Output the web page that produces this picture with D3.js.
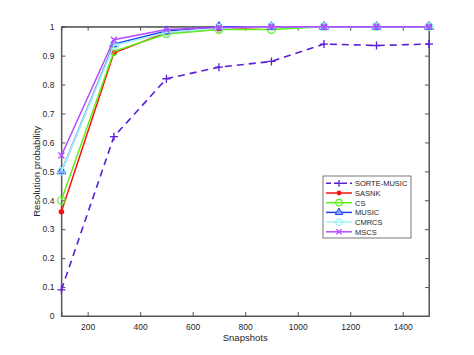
<!DOCTYPE html>
<html><head><meta charset="utf-8">
<script src="https://cdn.jsdelivr.net/npm/d3@7"></script>
<style>body{margin:0;background:#fff}svg{display:block}text{font-family:"Liberation Sans",Arial,sans-serif;fill:#262626}</style>
</head><body><svg id="c" width="474" height="355"></svg>
<script>
const snapshots = [100, 300, 500, 700, 900, 1100, 1300, 1500];
const seriesNames = ["SORTE-MUSIC", "SASNK", "CS", "MUSIC", "CMRCS", "MSCS"];
const sorteMusic = [0.09, 0.62, 0.82, 0.86, 0.88, 0.94, 0.935, 0.94];
const sasnk = [0.36, 0.91, 0.98, 0.99, 1.0, 1.0, 1.0, 1.0];
const cs = [0.40, 0.915, 0.975, 0.99, 0.99, 1.0, 1.0, 1.0];
const music = [0.50, 0.94, 0.985, 1.0, 1.0, 1.0, 1.0, 1.0];
const cmrcs = [0.50, 0.935, 0.98, 0.995, 1.0, 1.0, 1.0, 1.0];
const mscs = [0.555, 0.955, 0.99, 0.997, 1.0, 1.0, 1.0, 1.0];
const xTicks = [200, 400, 600, 800, 1000, 1200, 1400];
const yTicks = [0, 0.1, 0.2, 0.3, 0.4, 0.5, 0.6, 0.7, 0.8, 0.9, 1];

const styles = [
  {color:"#5a1ed6", marker:"plus", dash:"7,5", fill:"none"},
  {color:"#ff1010", marker:"dot", dash:null, fill:"#ff1010"},
  {color:"#5cf01a", marker:"circle", dash:null, fill:"none"},
  {color:"#2040f0", marker:"triangle", dash:null, fill:"#8fa8ff"},
  {color:"#9ff5f0", marker:"circle", dash:null, fill:"none"},
  {color:"#b44cff", marker:"x", dash:null, fill:"none"}
];
const values = [sorteMusic, sasnk, cs, music, cmrcs, mscs];

const svg = d3.select("#c");
const m = {l:61.4, r:474-429, t:26.7, b:355-316};
const W = 474, H = 355;
const x = d3.scaleLinear().domain([100,1500]).range([m.l, W-m.r]);
const y = d3.scaleLinear().domain([0,1]).range([H-m.b, m.t]);

const axisColor = "#555";
svg.append("rect").attr("x", m.l).attr("y", m.t).attr("width", x(1500)-m.l).attr("height", y(0)-m.t)
  .attr("fill","none").attr("stroke", axisColor).attr("stroke-width",1);

const gx = svg.append("g").attr("transform",`translate(0,${y(0)})`)
  .call(d3.axisBottom(x).tickValues(xTicks).tickSize(-4).tickPadding(8).tickFormat(d3.format("d")));
const gxt = svg.append("g").attr("transform",`translate(0,${m.t})`)
  .call(d3.axisTop(x).tickValues(xTicks).tickSize(-4).tickFormat(""));
const gy = svg.append("g").attr("transform",`translate(${m.l},0)`)
  .call(d3.axisLeft(y).tickValues(yTicks).tickSize(-4).tickPadding(7).tickFormat(d => d3.format("")(+d.toFixed(1))));
const gyr = svg.append("g").attr("transform",`translate(${x(1500)},0)`)
  .call(d3.axisRight(y).tickValues(yTicks).tickSize(-4).tickFormat(""));
[gx,gxt,gy,gyr].forEach(g => {
  g.select(".domain").attr("stroke", axisColor);
  g.selectAll(".tick line").attr("stroke", axisColor);
  g.selectAll("text").attr("font-size", 8.5).attr("fill","#262626").attr("font-family",'"Liberation Sans",Arial,sans-serif');
});

svg.append("text").attr("x", (m.l + x(1500))/2).attr("y", 341).attr("text-anchor","middle")
  .attr("font-size", 9.5).text("Snapshots");
svg.append("text").attr("transform",`translate(40,${(m.t+y(0))/2}) rotate(-90)`).attr("text-anchor","middle")
  .attr("font-size", 9.5).text("Resolution probability");

function drawMarker(g, type, cx, cy, s, sc) {
  sc = sc || 1;
  if (type === "plus") {
    const a = 4*sc;
    g.append("path").attr("d",`M${cx-a},${cy}H${cx+a}M${cx},${cy-a}V${cy+a}`).attr("stroke", s.color).attr("stroke-width",1.3);
  } else if (type === "dot") {
    g.append("circle").attr("cx",cx).attr("cy",cy).attr("r",2.8*sc).attr("fill",s.color);
  } else if (type === "circle") {
    g.append("circle").attr("cx",cx).attr("cy",cy).attr("r",3.8*sc).attr("fill","none").attr("stroke",s.color).attr("stroke-width",1.2);
  } else if (type === "triangle") {
    g.append("path").attr("d",d3.symbol().type(d3.symbolTriangle).size(34*sc*sc)()).attr("transform",`translate(${cx},${cy})`)
      .attr("fill",s.fill).attr("stroke",s.color).attr("stroke-width",1);
  } else if (type === "x") {
    const a = 3*sc;
    g.append("path").attr("d",`M${cx-a},${cy-a}L${cx+a},${cy+a}M${cx-a},${cy+a}L${cx+a},${cy-a}`).attr("stroke",s.color).attr("stroke-width",1.3);
  }
}

const line = d3.line().x((d,i) => x(snapshots[i])).y(d => y(d));
values.forEach((vals, k) => {
  const s = styles[k];
  const g = svg.append("g");
  g.append("path").datum(vals).attr("d", line).attr("fill","none").attr("stroke", s.color)
    .attr("stroke-width", k === 0 ? 1.6 : 1.5).attr("stroke-dasharray", s.dash);
  vals.forEach((v,i) => drawMarker(g, s.marker, x(snapshots[i]), y(v), s));
});

const lg = svg.append("g");
lg.append("rect").attr("x",323).attr("y",176).attr("width",88).attr("height",62)
  .attr("fill","#fff").attr("stroke","#555").attr("stroke-width",0.8);
seriesNames.forEach((name,k) => {
  const s = styles[k];
  const ly = 183.3 + k*9.7;
  lg.append("line").attr("x1",326).attr("x2",352).attr("y1",ly).attr("y2",ly).attr("stroke",s.color)
    .attr("stroke-width",1.5).attr("stroke-dasharray", s.dash ? "5,3" : null);
  drawMarker(lg, s.marker, 339, ly, s, 0.85);
  lg.append("text").attr("x",355).attr("y",ly+3).attr("font-size",7.5).text(name);
});
</script></body></html>
